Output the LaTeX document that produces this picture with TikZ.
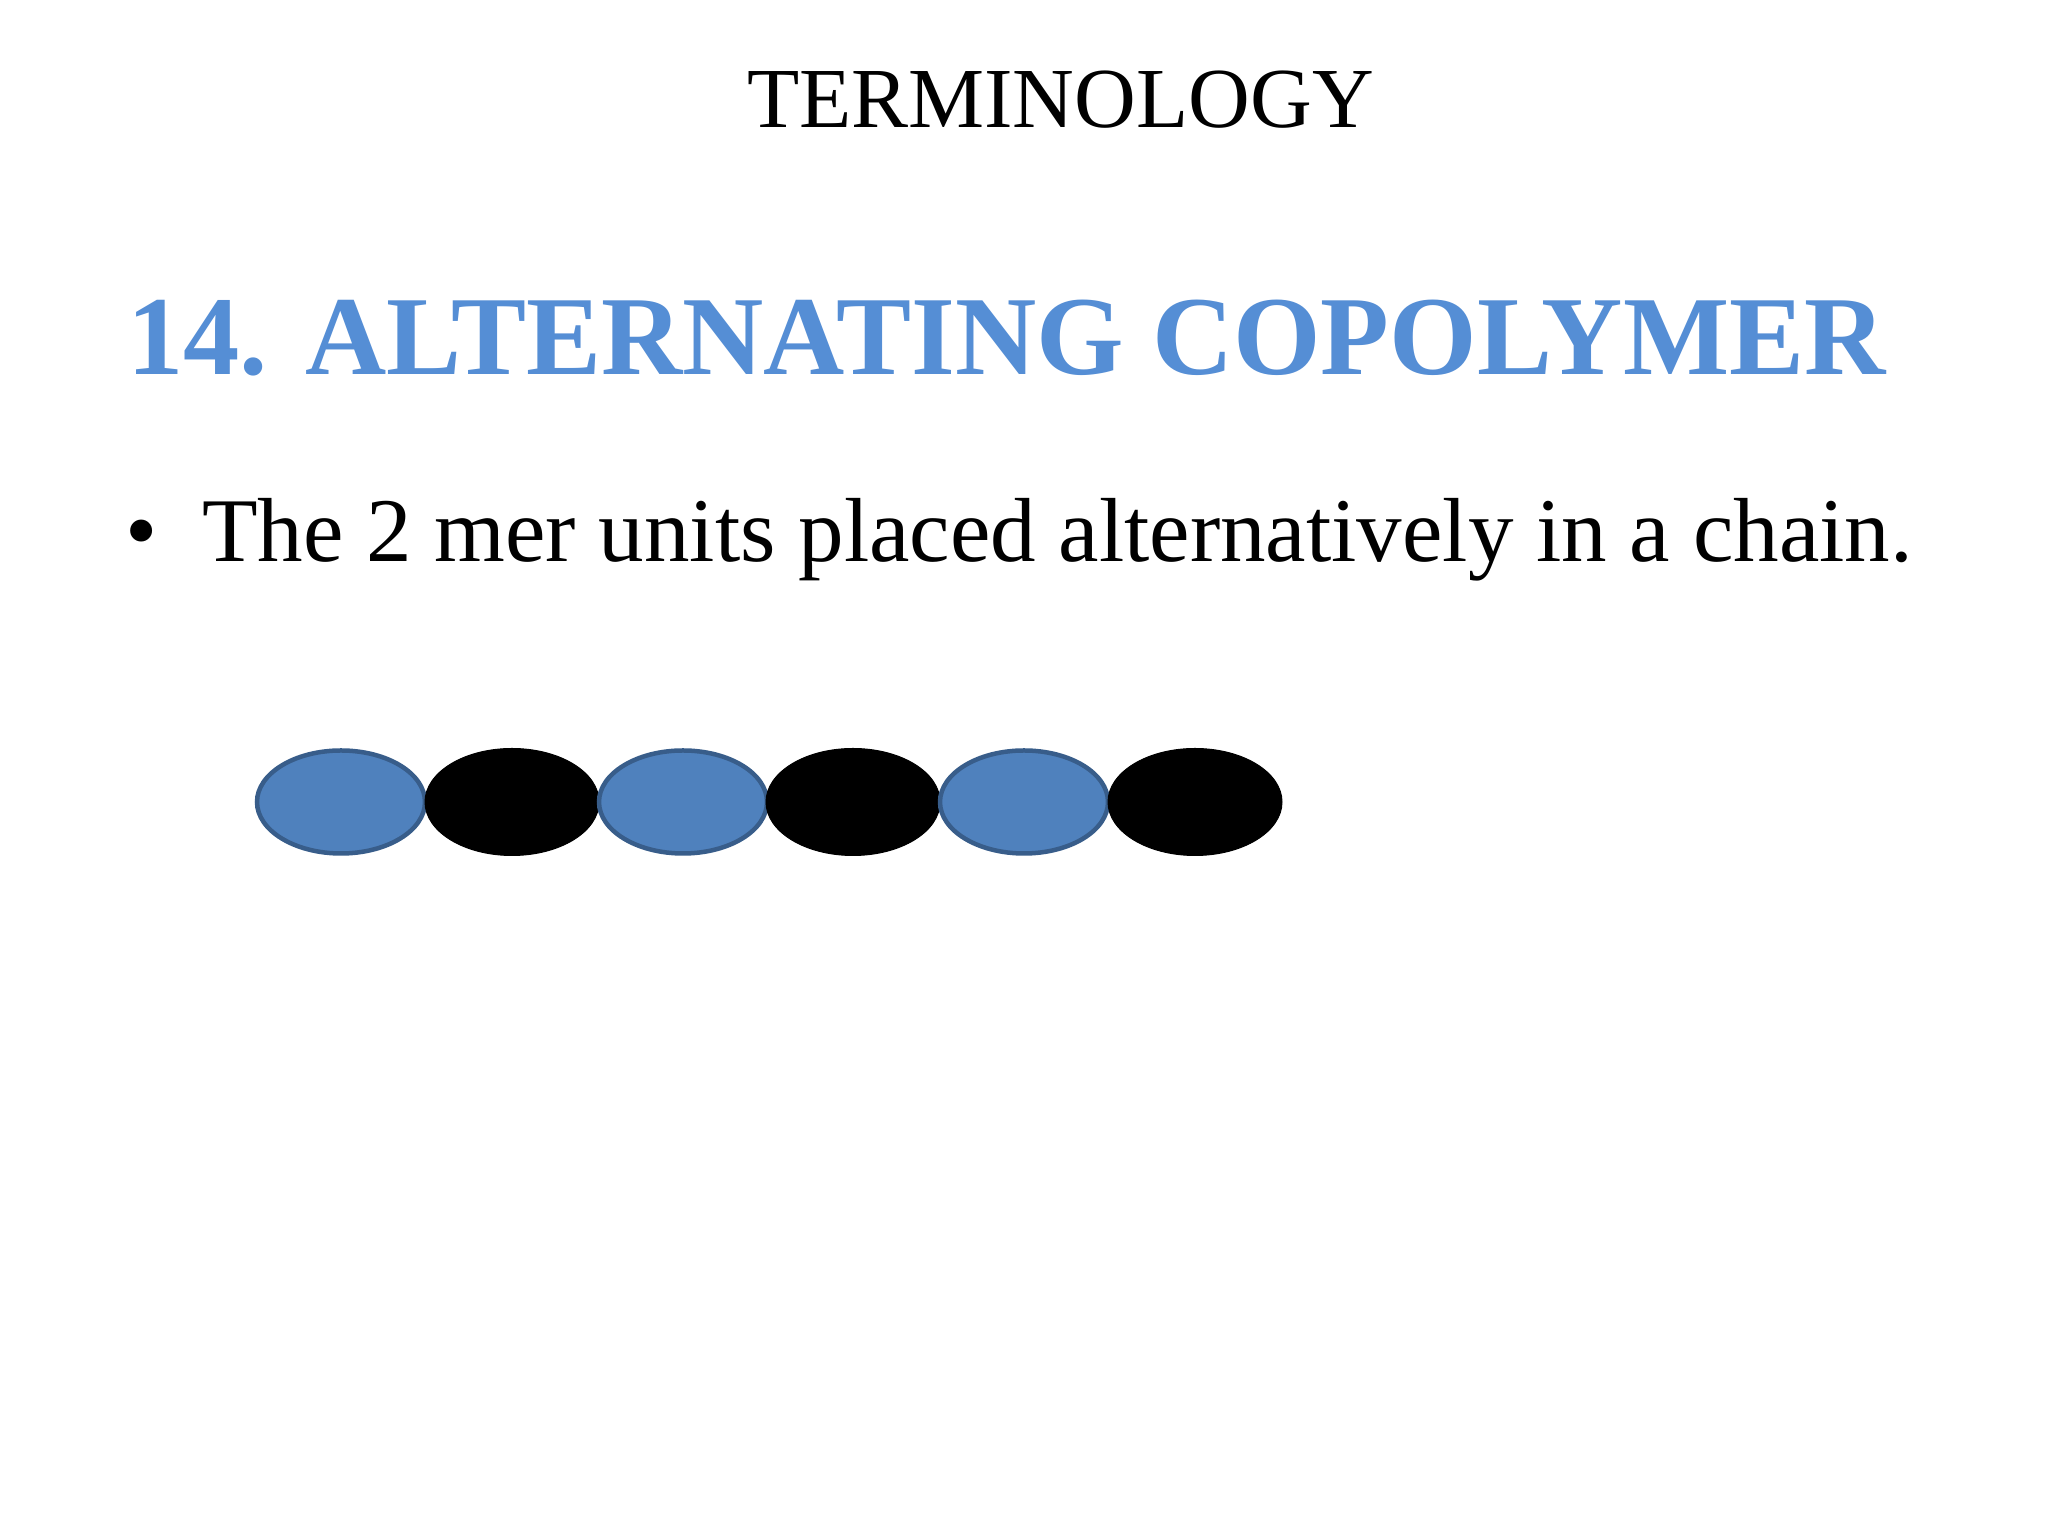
\documentclass[tikz,border=0pt]{standalone}
\usepackage{fontspec}
\setmainfont{Liberation Serif}
\definecolor{headblue}{RGB}{85,142,213}
\definecolor{unitblue}{RGB}{79,129,189}
\definecolor{unitedge}{RGB}{56,93,138}
\tikzset{
  txt/.style={inner sep=0pt, outer sep=0pt, anchor=base west},
  bluemer/.style={ellipse, draw=unitedge, line width=4.5pt, fill=unitblue, minimum width=168pt, minimum height=103pt, inner sep=0pt},
  blackmer/.style={ellipse, draw=black, line width=1pt, fill=black, minimum width=174pt, minimum height=107pt, inner sep=0pt}
}
\usetikzlibrary{shapes.geometric}
\begin{document}
\begin{tikzpicture}[x=1pt,y=1pt]
\useasboundingbox[fill=white] (0,0) rectangle (2048,1536);
\node[txt] (title) at (747,1408) {\fontsize{85.5}{95}\selectfont TERMINOLOGY};
\node[txt, text=headblue] (head) at (127,1161) {\fontsize{112.5}{125}\selectfont\bfseries 14. ALTERNATING COPOLYMER};
\node[txt] (bullet) at (125,974) {\fontsize{92}{100}\selectfont •};
\node[txt] (body) at (202,974) {\fontsize{91}{100}\selectfont The 2 mer units placed alternatively in a chain.};
\node[bluemer] (m1) at (341,734) {};
\node[blackmer] (m2) at (512,734) {};
\node[bluemer] (m3) at (683,734) {};
\node[blackmer] (m4) at (853,734) {};
\node[bluemer] (m5) at (1024,734) {};
\node[blackmer] (m6) at (1195,734) {};
\end{tikzpicture}
\end{document}
